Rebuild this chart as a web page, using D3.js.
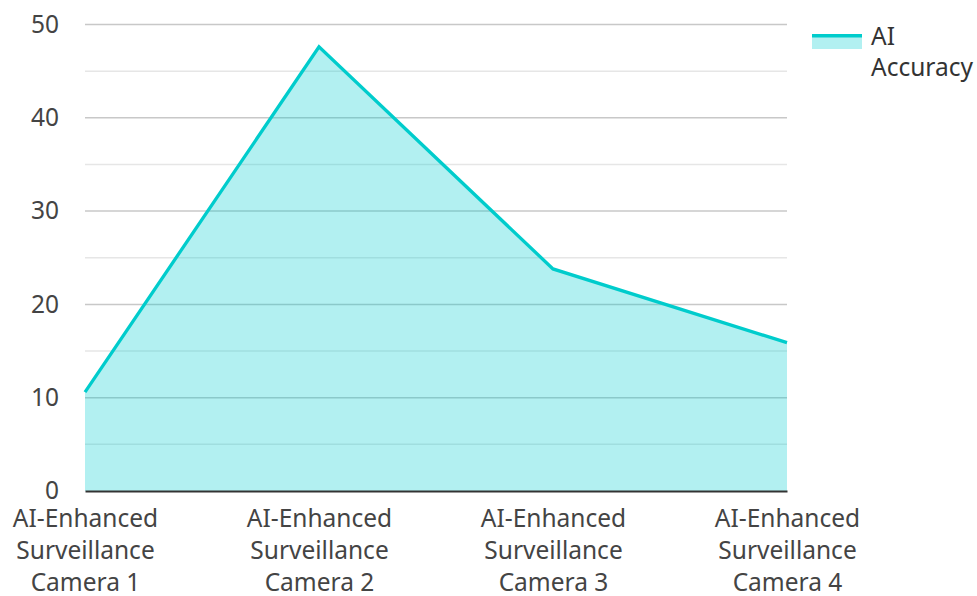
<!DOCTYPE html>
<html lang="en">
<head>
<meta charset="UTF-8">
<title>AI Accuracy</title>
<script src="https://cdn.jsdelivr.net/npm/d3@7"></script>
<style>
  body { margin: 0; background: #fff; font-family: "Noto Sans", sans-serif; }
  .tick text { fill: #444; font-size: 24.5px; font-family: "Noto Sans", sans-serif; }
  .legend text { fill: #333; font-size: 24.5px; }
</style>
</head>
<body>
<svg id="chart" width="977" height="596"></svg>
<script>
  // data
  let categories = ['AI-Enhanced Surveillance Camera 1', 'AI-Enhanced Surveillance Camera 2',
                    'AI-Enhanced Surveillance Camera 3', 'AI-Enhanced Surveillance Camera 4']
  let labelLines = [['AI-Enhanced', 'Surveillance', 'Camera 1'], ['AI-Enhanced', 'Surveillance', 'Camera 2'],
                    ['AI-Enhanced', 'Surveillance', 'Camera 3'], ['AI-Enhanced', 'Surveillance', 'Camera 4']]
  let accuracy = [10.6, 47.6, 23.8, 15.9]
  let seriesName = ['AI', 'Accuracy']
  let majorTicks = [0, 10, 20, 30, 40, 50]
  let minorTicks = [5, 15, 25, 35, 45]

  let svg = d3.select('#chart')
  let mLeft = 85, mRight = 787, mTop = 24.5, mBottom = 491

  let x = d3.scalePoint().domain(categories).range([mLeft, mRight])
  let y = d3.scaleLinear().domain([0, 50]).range([mBottom, mTop])

  // grid
  svg.append('g').selectAll('line').data(minorTicks).join('line')
    .attr('x1', mLeft).attr('x2', mRight)
    .attr('y1', d => y(d)).attr('y2', d => y(d))
    .attr('stroke', '#e6e6e6').attr('stroke-width', 1.5)
  svg.append('g').selectAll('line').data(majorTicks.filter(d => d > 0)).join('line')
    .attr('x1', mLeft).attr('x2', mRight)
    .attr('y1', d => y(d)).attr('y2', d => y(d))
    .attr('stroke', '#c8c8c8').attr('stroke-width', 1.5)

  let pts = categories.map((c, i) => [c, accuracy[i]])

  // area
  svg.append('path').datum(pts)
    .attr('d', d3.area().x(d => x(d[0])).y0(y(0)).y1(d => y(d[1])))
    .attr('fill', 'rgba(0, 206, 209, 0.3)')

  // line
  svg.append('path').datum(pts)
    .attr('d', d3.line().x(d => x(d[0])).y(d => y(d[1])))
    .attr('fill', 'none').attr('stroke', '#00cccc').attr('stroke-width', 3.3)

  // y axis
  let yAxis = svg.append('g').attr('transform', `translate(${mLeft},0)`)
    .call(d3.axisLeft(y).tickValues(majorTicks).tickSize(0).tickPadding(26))
  yAxis.select('.domain').remove()

  // x axis
  let xAxis = svg.append('g').attr('transform', `translate(0,${mBottom})`)
    .call(d3.axisBottom(x).tickSize(0).tickFormat(''))
  xAxis.select('.domain').attr('stroke', '#333').attr('stroke-width', 2)
  xAxis.selectAll('.tick').each(function (d, i) {
    let t = d3.select(this).append('text')
      .attr('text-anchor', 'middle').attr('fill', '#333')
    labelLines[i].forEach((line, j) => {
      t.append('tspan').attr('x', 0).attr('y', 36 + j * 32).text(line)
    })
  })

  // legend
  let legend = svg.append('g').attr('class', 'legend').attr('transform', 'translate(812,34)')
  legend.append('rect').attr('x', 0).attr('y', 0).attr('width', 50).attr('height', 15)
    .attr('fill', 'rgba(0, 206, 209, 0.3)')
  legend.append('line').attr('x1', 0).attr('x2', 50).attr('y1', 1.7).attr('y2', 1.7)
    .attr('stroke', '#00cccc').attr('stroke-width', 3.4)
  let lt = legend.append('text')
  seriesName.forEach((s, j) => {
    lt.append('tspan').attr('x', 59).attr('y', 11 + j * 31).text(s)
  })
</script>
</body>
</html>
